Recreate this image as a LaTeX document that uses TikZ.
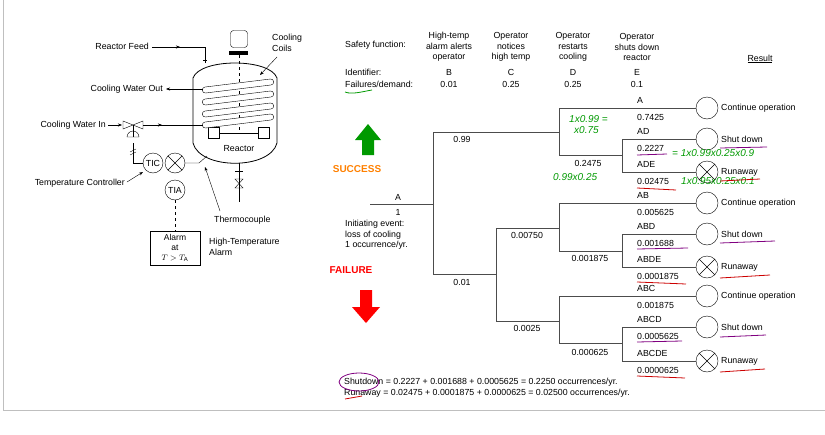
\documentclass[tikz,border=0pt]{standalone}
\usepackage{fontspec}
\setmainfont{Liberation Sans}
\usetikzlibrary{arrows.meta}
\begin{document}
\begin{tikzpicture}[x=1pt,y=-1pt,
  every node/.style={font=\fontsize{8.8}{10.5}\selectfont,inner sep=1pt},
  br/.style={draw=black!70,line width=0.7pt},
  ok/.style={circle,draw,minimum size=22pt,inner sep=0pt},
  bad/.style={circle,draw,minimum size=22pt,inner sep=0pt,path picture={\draw (path picture bounding box.north west)--(path picture bounding box.south east)(path picture bounding box.north east)--(path picture bounding box.south west);}},
  inst/.style={circle,draw,minimum size=20pt,inner sep=0pt},
  lbl/.style={anchor=west},
  hand/.style={green!60!black,font=\fontsize{10}{10}\itshape},
  arr/.style={-{Stealth[length=4pt]}}]
\useasboundingbox (0,0) rectangle (825,434);
\draw[black!25] (3,0)--(3,410)--(825,410);
% ---------- left P&ID ----------
\draw[thick] (193,78) .. controls (200,58) and (270,58) .. (277,78) -- (277,143) .. controls (270,170) and (200,170) .. (193,143) -- cycle;
\node[draw,rounded corners=3pt,minimum width=17pt,minimum height=17pt,inner sep=0pt] (motor) at (239,39) {};
\fill (229,51) rectangle (248,55);
\draw[dashed] (239,55)--(239,133);
\draw (214,133)--(264,133);
\node[draw,minimum size=11pt,inner sep=0pt,fill=white] (imp1) at (214,133) {};
\node[draw,minimum size=11pt,inner sep=0pt,fill=white] (imp2) at (264,133) {};
\draw (205,63)--(205,47);
\draw (203,60)--(207,60);
\draw[arr] (152,47)--(180,47); \draw (178,47)--(205,47);
\node[anchor=east] (feed) at (150,46) {Reactor Feed};
% coils
\foreach \y in {86,98,110,121}{
  \draw[fill=white,rotate around={7:(238,\y)},rounded corners=3pt] (202,{\y-3}) rectangle (274,{\y+3});}
\draw[arr] (203,89)--(166,89);
\node[anchor=east] (cwo) at (164,89) {Cooling Water Out};
\node[anchor=east] (cwi) at (107,125) {Cooling Water In};
\draw[arr] (108,125)--(122,125);
\draw (123,121)--(143,129)--(143,121)--(123,129)--cycle;
\draw[arr] (143,125)--(162,125); \draw (160,125)--(203,125);
\draw (133,125)--(133,137); \draw (127,137)--(139,137) arc(0:-180:6);
\draw (133,143)--(133,163)--(143,163);
\draw (130,152)--(136,149) (130,155)--(136,152);
\node[inst] (tic) at (153,163) {TIC};
\node[inst,path picture={\draw (path picture bounding box.north west)--(path picture bounding box.south east)(path picture bounding box.north east)--(path picture bounding box.south west);}] (x) at (175,163) {};
\node[inst] (tia) at (175,190) {TIA};
\draw (x.east)--(199,163)--(207,156);
\draw (239,163)--(239,202); \draw (235,171)--(243,171);
\draw (235,179)--(243,188)--(235,188)--(243,179)--cycle;
\node at (239,149) {Reactor};
\node[anchor=west,align=left] (cc) at (271,43) {Cooling\\Coils};
\draw[arr] (277,57)--(260,75);
\node[anchor=east] (tc) at (126,183) {Temperature Controller};
\draw[arr] (127,182)--(143,172);
\node[anchor=west] (thc) at (213,220) {Thermocouple};
\draw[arr] (220,211)--(205,167);
\node[draw,minimum width=50pt,minimum height=34pt,align=center,inner sep=0pt,font=\fontsize{8.5}{10}\selectfont] (alarm) at (175,248) {Alarm\\at\\$T>T_{\mathrm A}$};
\draw[dashed] (tia)--(alarm);
\node[anchor=west,align=left] (hta) at (208,247) {High-Temperature\\Alarm};
% ---------- header ----------
\node[anchor=west] at (344,45) {Safety function:};
\foreach \x/\t/\id/\p in {449/{High-temp\\alarm alerts\\operator}/B/0.01, 511/{Operator\\notices\\high temp}/C/0.25, 573/{Operator\\restarts\\cooling}/D/0.25, 637/{Operator\\shuts down\\reactor}/E/0.1}{
  \node[align=center] at (\x,47) {\t};
  \node at (\x,72) {\id}; \node at (\x,84) {\p};}
\node[anchor=west] at (344,72) {Identifier:};
\node[anchor=west] at (344,84) {Failures/demand:};
\node at (760,59) {\underline{Result}};
% ---------- tree ----------
\coordinate (a0) at (370,204);
\coordinate (a1) at (433,204);
\draw[br] (a0)--(a1);
\node at (398,197) {A}; \node at (398,212) {1};
\node[anchor=west,align=left] at (344,235) {Initiating event:\\loss of cooling\\1 occurrence/yr.};
\draw[br] (433,132)--(433,274);
\draw[br] (433,132)--(559,132); \draw[br] (433,274)--(496,274);
\draw[br] (559,108)--(559,155); \draw[br] (559,155)--(622,155);
\draw[br] (622,139)--(622,172);
\draw[br] (496,228)--(496,321);
\draw[br] (496,228)--(559,228); \draw[br] (559,203)--(559,251); \draw[br] (559,251)--(622,251); \draw[br] (622,234)--(622,267);
\draw[br] (496,321)--(559,321); \draw[br] (559,296)--(559,343); \draw[br] (559,343)--(622,343); \draw[br] (622,327)--(622,361);
\node at (462,139) {0.99}; \node at (588,163) {0.2475};
\node at (527,235) {0.00750}; \node at (590,258) {0.001875};
\node at (462,282) {0.01}; \node at (527,328) {0.0025}; \node at (590,352) {0.000625};
\foreach \n/\xs/\y/\s/\v/\r/\k in {
 o1/559/108/A/0.7425/Continue operation/ok,
 o2/622/139/AD/0.2227/Shut down/ok,
 o3/622/172/ADE/0.02475/Runaway/bad,
 o4/559/203/AB/0.005625/Continue operation/ok,
 o5/622/234/ABD/0.001688/Shut down/ok,
 o6/622/267/ABDE/0.0001875/Runaway/bad,
 o7/559/296/ABC/0.001875/Continue operation/ok,
 o8/622/327/ABCD/0.0005625/Shut down/ok,
 o9/622/361/ABCDE/0.0000625/Runaway/bad}{
 \node[\k] (\n) at (707,\y) {};
 \draw[br] (\xs,\y)--(\n.west);
 \node[lbl] at (636,{\y-8}) {\s};
 \node[lbl] at (636,{\y+9}) {\v};
 \node[lbl] at (720,\y) {\r};}
% success/failure
\node[text=orange,font=\bfseries\fontsize{10}{10}\selectfont] at (357,169) {SUCCESS};
\fill[green!60!black] (362,155)--(362,140)--(355,140)--(368,124)--(381,140)--(374,140)--(374,155)--cycle;
\node[text=red,font=\bfseries\fontsize{10}{10}\selectfont] at (351,270) {FAILURE};
\fill[red] (360,290)--(360,307)--(352,307)--(366,323)--(380,307)--(372,307)--(372,290)--cycle;
\node[anchor=west] at (343,382) {Shutdown = 0.2227 + 0.001688 + 0.0005625 = 0.2250 occurrences/yr.};
\node[anchor=west] at (343,393) {Runaway = 0.02475 + 0.0001875 + 0.0000625 = 0.02500 occurrences/yr.};
% handwritten annotations
\node[hand,anchor=west] at (568,119) {1x0.99 =};
\node[hand,anchor=west] at (573,130) {x0.75};
\node[hand,anchor=west] at (671,153) {= 1x0.99x0.25x0.9};
\node[hand,anchor=west] at (552,177) {0.99x0.25};
\node[hand,anchor=west] at (680,181) {1x0.95x0.25x0.1};
\draw[green!60!black,thick] (345,92) .. controls (352,95) and (365,91) .. (372,90);
\draw[violet,thick] (637,155)--(667,154) (720,148)--(767,147) (637,249)--(688,248) (720,243)--(775,241) (637,342)--(682,341) (720,337)--(766,335);
\draw[red!80!black,thick] (637,188)--(676,190) (720,181)--(760,179) (637,282)--(686,284) (720,278)--(770,275) (637,376)--(685,378) (720,372)--(765,369) (345,399)--(362,396);
\draw[violet,thick] (359,382) ellipse (20pt and 9pt);
\end{tikzpicture}
\end{document}
